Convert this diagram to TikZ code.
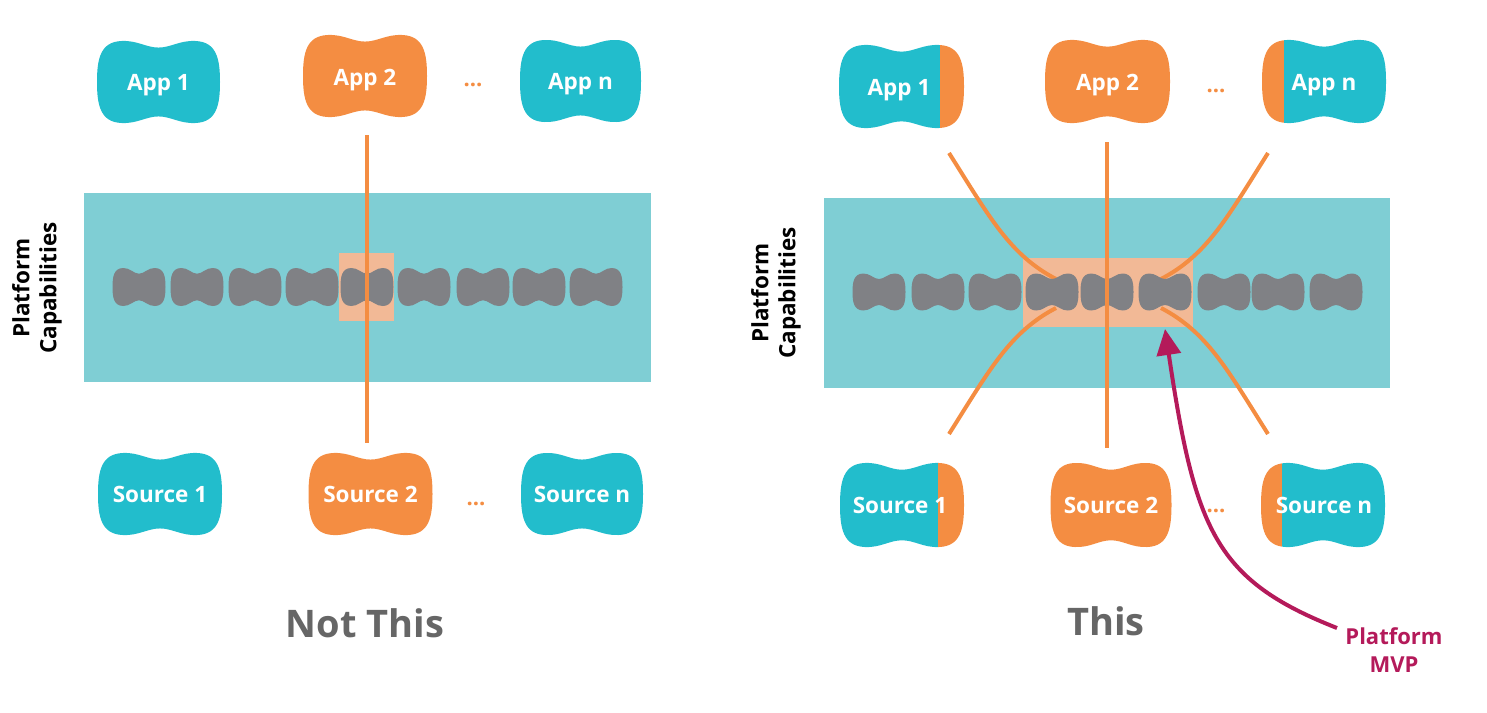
\documentclass[tikz,border=0pt]{standalone}
\usepackage{fontspec}
\setmainfont{Open Sans}
\usetikzlibrary{arrows.meta}
\definecolor{blobteal}{RGB}{34,189,204}
\definecolor{bandteal}{RGB}{127,206,212}
\definecolor{orng}{RGB}{244,141,66}
\definecolor{peach}{RGB}{242,185,150}
\definecolor{grayblob}{RGB}{128,129,133}
\definecolor{titlegray}{RGB}{102,102,102}
\definecolor{mag}{RGB}{180,26,90}
\tikzset{
  blobpath/.style={insert path={(-1,0) .. controls (-1,-0.55) and (-0.95,-0.98) .. (-0.6,-1)
    .. controls (-0.35,-1.02) and (-0.2,-#1) .. (0,-#1)
    .. controls (0.2,-#1) and (0.35,-1.02) .. (0.6,-1)
    .. controls (0.95,-0.98) and (1,-0.55) .. (1,0)
    .. controls (1,0.55) and (0.95,0.98) .. (0.6,1)
    .. controls (0.35,1.02) and (0.2,#1) .. (0,#1)
    .. controls (-0.2,#1) and (-0.35,1.02) .. (-0.6,1)
    .. controls (-0.95,0.98) and (-1,0.55) .. (-1,0) -- cycle}},
  lbl/.style={text=white, inner sep=0pt, text height=16pt, text depth=0pt,
    font=\bfseries\fontsize{22.5}{27}\selectfont},
  dots/.style={text=orng, inner sep=0pt, anchor=base, font=\bfseries\fontsize{22}{26}\selectfont},
  title/.style={text=titlegray, inner sep=0pt, text height=27pt, text depth=0pt,
    font=\bfseries\fontsize{38}{44}\selectfont},
  sidelbl/.style={rotate=90, align=center, inner sep=0pt, text=black,
    font=\bfseries\fontsize{22.5}{27}\selectfont},
  oline/.style={draw=orng, line width=4.5pt},
  ocurve/.style={draw=orng, line width=4pt},
  mvplbl/.style={text=mag, inner sep=0pt, anchor=base, font=\bfseries\fontsize{22}{26}\selectfont}
}
\newcommand{\cblob}[5]{\fill[#5, shift={(#1,#2)}, xscale=#3, yscale=#4, blobpath=0.84];}
\newcommand{\sblob}[7]{%
  \begin{scope}
    \clip[shift={(#1,#2)}, xscale=#3, yscale=#4, blobpath=0.84];
    \fill[#6] (#1-#3-3,#2-#4-3) rectangle (#5,#2+#4+3);
    \fill[#7] (#5,#2-#4-3) rectangle (#1+#3+3,#2+#4+3);
  \end{scope}}
\begin{document}
\begin{tikzpicture}[x=1pt,y=-1pt]
\useasboundingbox (0,0) rectangle (1487,712);

% ---------------- LEFT PANEL ----------------
\fill[bandteal] (84,193) rectangle (651,382);
\fill[peach] (339,253) rectangle (394,321);
\foreach \x in {139,197,255,312,367,424,483,539,596}
  \fill[grayblob, shift={(\x,287)}, xscale=26.5, yscale=19, blobpath=0.7];
\coordinate (Ltop) at (367,135);
\coordinate (Lbot) at (367,443);
\draw[oline] (Ltop) -- (Lbot);

\cblob{158.5}{82}{61.5}{41}{blobteal}
\cblob{365}{76}{62}{41}{orng}
\cblob{580.5}{81}{60.5}{41}{blobteal}
\cblob{160}{494}{62}{41}{blobteal}
\cblob{370.5}{494}{62}{41}{orng}
\cblob{582}{494}{61}{41}{blobteal}

\node[lbl] (Lapp1) at (158.5,82) {App 1};
\node[lbl] (Lapp2) at (365,77) {App 2};
\node[lbl] (Lappn) at (580.5,81) {App n};
\node[dots] (Ldotstop) at (473,86) {...};
\node[lbl] (Lsrc1) at (160,494) {Source 1};
\node[lbl] (Lsrc2) at (370.5,494) {Source 2};
\node[lbl] (Lsrcn) at (582,494) {Source n};
\node[dots] (Ldotsbot) at (476,505) {...};
\node[sidelbl] (Lside) at (37,288) {Platform\\Capabilities};
\node[title] (Ltitle) at (365,623.5) {Not This};

% ---------------- RIGHT PANEL ----------------
\fill[bandteal] (824,198) rectangle (1390,388);
\fill[peach] (1023,258) rectangle (1193,327);
\coordinate (TLs) at (949,153);  \coordinate (TLe) at (1056,279);
\coordinate (BLs) at (949,434);  \coordinate (BLe) at (1056,308);
\coordinate (TRs) at (1268,153); \coordinate (TRe) at (1161,279);
\coordinate (BRs) at (1268,434); \coordinate (BRe) at (1161,308);
\draw[ocurve] (TLs) .. controls (990,218) and (1010,255) .. (TLe);
\draw[ocurve] (BLs) .. controls (990,369) and (1010,332) .. (BLe);
\draw[ocurve] (TRs) .. controls (1227,218) and (1207,255) .. (TRe);
\draw[ocurve] (BRs) .. controls (1227,369) and (1207,332) .. (BRe);
\foreach \x in {879,938,995,1052,1107,1165,1224,1278,1336}
  \fill[grayblob, shift={(\x,292)}, xscale=26.5, yscale=18.5, blobpath=0.7];
\coordinate (Rtop) at (1107,142);
\coordinate (Rbot) at (1107,448);
\draw[oline] (Rtop) -- (Rbot);

\sblob{901.5}{86.5}{62.5}{41.5}{940}{blobteal}{orng}
\cblob{1107.5}{81.5}{62.5}{41.5}{orng}
\sblob{1324}{81.5}{62}{41.5}{1284}{orng}{blobteal}
\sblob{902}{505}{62}{42}{938}{blobteal}{orng}
\cblob{1111}{505}{60.5}{42}{orng}
\sblob{1323}{505}{62}{42}{1282}{orng}{blobteal}

\node[lbl] (Rapp1) at (899,87) {App 1};
\node[lbl] (Rapp2) at (1107.5,82) {App 2};
\node[lbl] (Rappn) at (1324,82) {App n};
\node[dots] (Rdotstop) at (1216,92) {...};
\node[lbl] (Rsrc1) at (900,505) {Source 1};
\node[lbl] (Rsrc2) at (1111,505) {Source 2};
\node[lbl] (Rsrcn) at (1324,505) {Source n};
\node[dots] (Rdotsbot) at (1216,512) {...};
\node[sidelbl] (Rside) at (776,293) {Platform\\Capabilities};
\node[title] (Rtitle) at (1106,622) {This};

% MVP arrow and label
\node[mvplbl] (mvp1) at (1394,644) {Platform};
\node[mvplbl] (mvp2) at (1394,672) {MVP};
\coordinate (mvptail) at (1337,628);
\coordinate (mvptip) at (1165,329);
\draw[mag, line width=4pt, -{Triangle[length=26pt,width=24pt]}]
  (mvptail) .. controls (1215,580) and (1195,530) .. (mvptip);
\end{tikzpicture}
\end{document}
